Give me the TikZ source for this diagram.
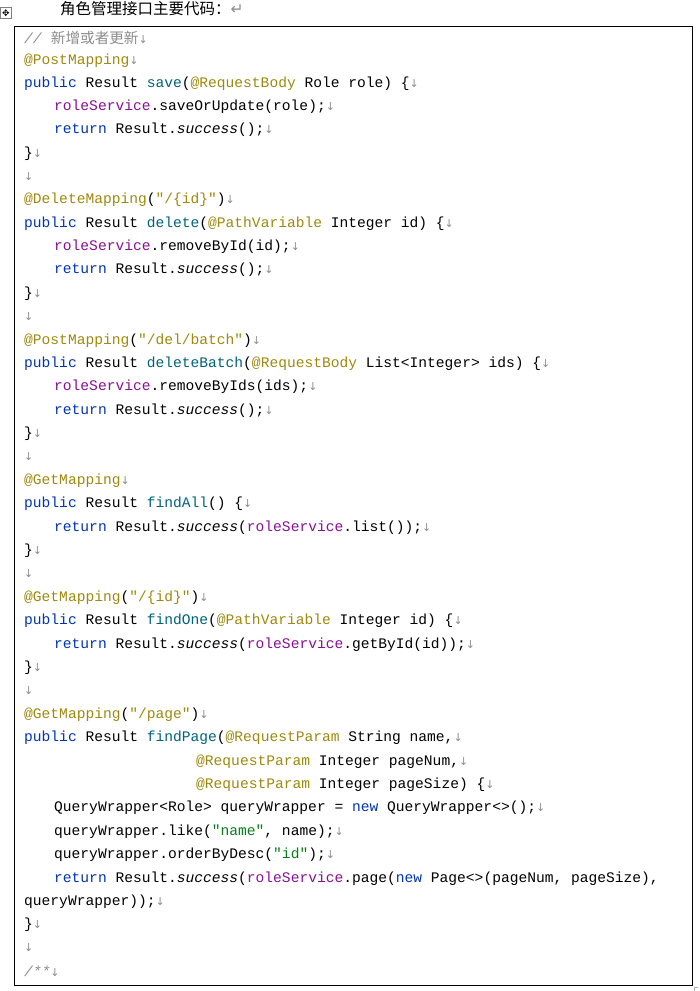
\documentclass[tikz,border=0pt]{standalone}
\usepackage{fontspec}
\setmonofont{Liberation Mono}
\newfontfamily\cjk{Noto Sans CJK SC}
\newfontfamily\sym{DejaVu Sans}
\definecolor{kwc}{HTML}{0033B3}
\definecolor{anc}{HTML}{9E880D}
\definecolor{fnc}{HTML}{00627A}
\definecolor{fdc}{HTML}{871094}
\definecolor{stc}{HTML}{067D17}
\definecolor{cmc}{HTML}{8C8C8C}
\newcommand\kw[1]{\textcolor{kwc}{#1}}
\newcommand\an[1]{\textcolor{anc}{#1}}
\newcommand\fn[1]{\textcolor{fnc}{#1}}
\newcommand\fd[1]{\textcolor{fdc}{#1}}
\newcommand\stx[1]{\textcolor{stc}{#1}}
\newcommand\dn{{\sym\fontsize{11pt}{11pt}\selectfont\textcolor{cmc}{↓}}}
\newcommand\sit[1]{\textit{#1}}
\begin{document}
\begin{tikzpicture}[x=1pt,y=1pt,
  code/.style={anchor=west,inner sep=0pt,font=\ttfamily\fontsize{14.6pt}{16pt}\selectfont}]
\useasboundingbox (0,0) rectangle (700,991);
\draw[black,line width=0.8pt] (14,991-26) rectangle (692,991-985);
\node[draw=gray,line width=0.6pt,minimum width=11pt,minimum height=11pt,inner sep=0pt,font=\sym\fontsize{9pt}{9pt}\selectfont] (mv) at (6,991-13) {✥};
\draw[gray!60] (694,991-987) -- (694,991-991) (694,991-987) -- (698,991-987);
\node[anchor=west,inner sep=0pt,font=\cjk\fontsize{15.5pt}{16pt}\selectfont] (title) at (60,991-9) {角色管理接口主要代码：\textcolor{cmc}{\sym ↵}};
\def\X{24} \def\I{54}
\node[code] (l1) at (\X,991-38) {\textcolor{cmc}{\textit{// }{\cjk\itshape 新增或者更新}}\dn};
\node[code] (l2) at (\X,991-61) {\an{@PostMapping}\dn};
\node[code] (l3) at (\X,991-84) {\kw{public} Result \fn{save}(\an{@RequestBody} Role role) \{\dn};
\node[code] (l4) at (\I,991-107) {\fd{roleService}.saveOrUpdate(role);\dn};
\node[code] (l5) at (\I,991-130) {\kw{return} Result.\sit{success}();\dn};
\node[code] (l6) at (\X,991-154) {\}\dn};
\node[code] (l7) at (\X,991-177) {\dn};
\node[code] (l8) at (\X,991-200) {\an{@DeleteMapping}(\an{"/\{id\}"})\dn};
\node[code] (l9) at (\X,991-224) {\kw{public} Result \fn{delete}(\an{@PathVariable} Integer id) \{\dn};
\node[code] (l10) at (\I,991-247) {\fd{roleService}.removeById(id);\dn};
\node[code] (l11) at (\I,991-270) {\kw{return} Result.\sit{success}();\dn};
\node[code] (l12) at (\X,991-294) {\}\dn};
\node[code] (l13) at (\X,991-317) {\dn};
\node[code] (l14) at (\X,991-341) {\an{@PostMapping}(\an{"/del/batch"})\dn};
\node[code] (l15) at (\X,991-364) {\kw{public} Result \fn{deleteBatch}(\an{@RequestBody} List<Integer> ids) \{\dn};
\node[code] (l16) at (\I,991-387) {\fd{roleService}.removeByIds(ids);\dn};
\node[code] (l17) at (\I,991-411) {\kw{return} Result.\sit{success}();\dn};
\node[code] (l18) at (\X,991-434) {\}\dn};
\node[code] (l19) at (\X,991-457) {\dn};
\node[code] (l20) at (\X,991-481) {\an{@GetMapping}\dn};
\node[code] (l21) at (\X,991-504) {\kw{public} Result \fn{findAll}() \{\dn};
\node[code] (l22) at (\I,991-528) {\kw{return} Result.\sit{success}(\fd{roleService}.list());\dn};
\node[code] (l23) at (\X,991-551) {\}\dn};
\node[code] (l24) at (\X,991-574) {\dn};
\node[code] (l25) at (\X,991-598) {\an{@GetMapping}(\an{"/\{id\}"})\dn};
\node[code] (l26) at (\X,991-621) {\kw{public} Result \fn{findOne}(\an{@PathVariable} Integer id) \{\dn};
\node[code] (l27) at (\I,991-645) {\kw{return} Result.\sit{success}(\fd{roleService}.getById(id));\dn};
\node[code] (l28) at (\X,991-668) {\}\dn};
\node[code] (l29) at (\X,991-691) {\dn};
\node[code] (l30) at (\X,991-715) {\an{@GetMapping}(\an{"/page"})\dn};
\node[code] (l31) at (\X,991-738) {\kw{public} Result \fn{findPage}(\an{@RequestParam} String name,\dn};
\node[code] (l32) at (196,991-762) {\an{@RequestParam} Integer pageNum,\dn};
\node[code] (l33) at (196,991-785) {\an{@RequestParam} Integer pageSize) \{\dn};
\node[code] (l34) at (\I,991-808) {QueryWrapper<Role> queryWrapper = \kw{new} QueryWrapper<>();\dn};
\node[code] (l35) at (\I,991-832) {queryWrapper.like(\stx{"name"}, name);\dn};
\node[code] (l36) at (\I,991-855) {queryWrapper.orderByDesc(\stx{"id"});\dn};
\node[code] (l37) at (\I,991-879) {\kw{return} Result.\sit{success}(\fd{roleService}.page(\kw{new} Page<>(pageNum, pageSize),};
\node[code] (l38) at (\X,991-902) {queryWrapper));\dn};
\node[code] (l39) at (\X,991-925) {\}\dn};
\node[code] (l40) at (\X,991-948) {\dn};
\node[code] (l41) at (\X,991-971) {\textcolor{cmc}{\textit{/**}}\dn};
\end{tikzpicture}
\end{document}
